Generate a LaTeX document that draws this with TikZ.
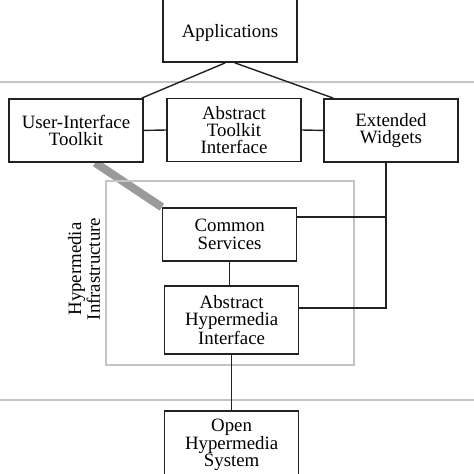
\documentclass[tikz,border=0pt]{standalone}
\usepackage{fontspec}
\setmainfont{Liberation Serif}
\usetikzlibrary{backgrounds}
\definecolor{RuleGray}{HTML}{C4C4C4}
\definecolor{BandGray}{HTML}{9A9A9A}
\definecolor{BoxInk}{HTML}{222222}

\begin{document}
\begin{tikzpicture}[line width=1pt,
  layer/.style={draw=BoxInk,fill=white,line width=1.2pt,minimum width=3.35cm,
    minimum height=1.575cm,align=center,inner sep=1pt,
    font=\fontsize{13.4}{12.3}\selectfont},
  wire/.style={draw=BoxInk,line width=1pt},
  rule/.style={draw=RuleGray,line width=0.8pt}]
  \useasboundingbox (0,0) rectangle (11.85,-11.85);
  \draw[rule] (0,-2.05) -- (11.85,-2.05);
  \draw[rule] (0,-10.0) -- (11.85,-10.0);
  \draw[rule] (2.65,-4.525) rectangle (8.85,-9.125);

  \node[layer,minimum height=1.75cm,text height=0.6cm,text depth=0.1cm] (app) at (5.75,-0.675) {Applications};
  \node[layer] (uit) at (1.9,-3.26) {User-Interface\\Toolkit};
  \node[layer] (ati) at (5.85,-3.25) {Abstract\\Toolkit\\Interface};
  \node[layer] (ew) at (9.775,-3.26) {Extended\\Widgets};
  \node[layer,minimum height=1.325cm] (cs) at (5.74,-5.86) {Common\\Services};
  \node[layer,minimum height=1.7cm] (ahi) at (5.79,-8.0) {Abstract\\Hypermedia\\Interface};
  \node[layer,minimum height=1.7cm] (ohs) at (5.79,-11.12) {Open\\Hypermedia\\System};
  \node[rotate=90,align=center,font=\fontsize{13.4}{12.3}\selectfont] (infra) at (2.1,-6.725)
    {Hypermedia\\Infrastructure};

  \begin{pgfonlayer}{background}
    \draw[BandGray,line width=5.8pt] ([xshift=0.48cm]uit.south) -- (cs.north west);
  \end{pgfonlayer}

  \draw[wire] ([xshift=-0.12cm]app.south) -- ([xshift=-0.05cm]uit.north east);
  \draw[wire] ([xshift=0.12cm]app.south) -- ([xshift=0.25cm]ew.north west);
  \draw[wire] (uit.east) -- (ati.west);
  \draw[wire] (ati.east) -- (ew.west);
  \coordinate (bus) at ([xshift=-0.125cm]ew.south);
  \coordinate (csr) at ([yshift=-0.25cm]cs.north east);
  \draw[wire] (bus) |- ([yshift=0.3cm]ahi.east);
  \draw[wire] (csr) -- (csr -| bus);
  \draw[wire] (cs.south) -- (cs.south |- ahi.north);
  \draw[wire] (ahi.south) -- (ohs.north);
\end{tikzpicture}
\end{document}
